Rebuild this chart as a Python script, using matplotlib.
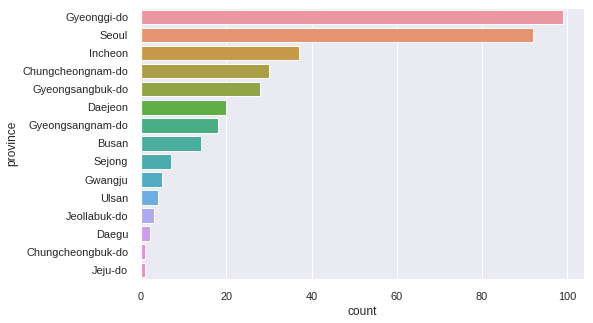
import matplotlib
matplotlib.use("Agg")
import matplotlib.pyplot as plt
import seaborn as sns

provinces = [
    "Gyeonggi-do", "Seoul", "Incheon", "Chungcheongnam-do", "Gyeongsangbuk-do",
    "Daejeon", "Gyeongsangnam-do", "Busan", "Sejong", "Gwangju", "Ulsan",
    "Jeollabuk-do", "Daegu", "Chungcheongbuk-do", "Jeju-do",
]
counts = [99, 92, 37, 30, 28, 20, 18, 14, 7, 5, 4, 3, 2, 1, 1]

sns.set_theme(style="darkgrid")
plt.rcParams["font.family"] = ["Liberation Sans", "DejaVu Sans"]
plt.rcParams["xtick.major.pad"] = 7
plt.rcParams["ytick.major.pad"] = 7

# husl colours, desaturated the way seaborn's categorical plots do it
colors = [sns.desaturate(c, 0.75) for c in sns.husl_palette(len(provinces), l=0.7)]

fig = plt.figure(figsize=(593 / 72, 323 / 72), dpi=72)
ax = fig.add_axes([0.238, 0.137, 0.747, 0.838])

ax.barh(range(len(provinces)), counts, height=0.8, color=colors)
ax.set_yticks(range(len(provinces)))
ax.set_yticklabels(provinces)
ax.set_ylim(len(provinces) - 0.5, -0.5)
ax.yaxis.grid(False)
ax.set_xlabel("count")
ax.set_ylabel("province")

fig.savefig("out.png", dpi=72)
